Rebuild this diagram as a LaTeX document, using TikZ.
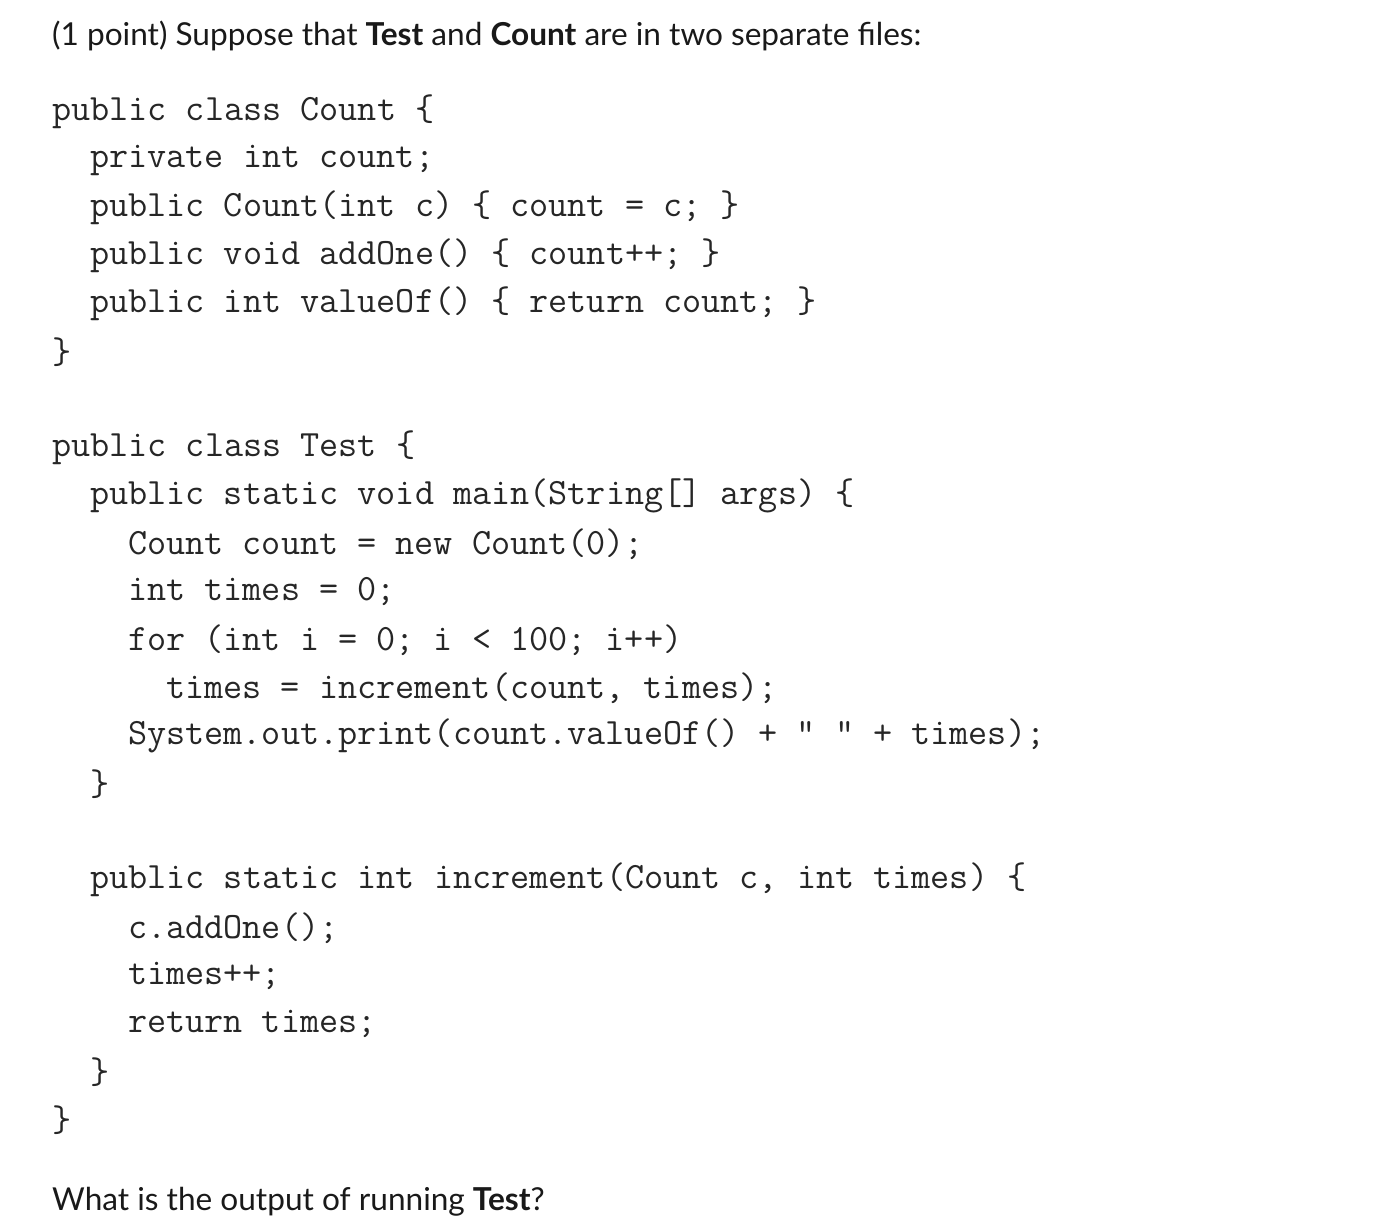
\documentclass[tikz,border=0pt]{standalone}
\usepackage{fontspec}
\setmainfont{Lato}
\newfontfamily\codef{Latin Modern Mono}
\begin{document}
\begin{tikzpicture}[x=1pt,y=-1pt,
  cl/.style={anchor=west,inner sep=0pt,font=\codef\fontsize{37.1}{37.1}\selectfont,text=black!85},
  tx/.style={anchor=west,inner sep=0pt,font=\fontsize{31.6}{31.6}\selectfont,text=black!90}]
\useasboundingbox (0,0) rectangle (1384,1230);
\node[tx] (h) at (52,36) {(1 point) Suppose that \textbf{Test} and \textbf{Count} are in two separate files:};
\node[cl] (l1) at (52,112) {public class Count \{};
\node[cl] (l2) at (90,160) {private int count;};
\node[cl] (l3) at (90,208) {public Count(int c) \{ count = c; \}};
\node[cl] (l4) at (90,256) {public void addOne() \{ count++; \}};
\node[cl] (l5) at (90,304) {public int valueOf() \{ return count; \}};
\node[cl] (l6) at (52,352) {\}};
\node[cl] (l7) at (52,448) {public class Test \{};
\node[cl] (l8) at (90,496) {public static void main(String[] args) \{};
\node[cl] (l9) at (128,544) {Count count = new Count(0);};
\node[cl] (l10) at (128,592) {int times = 0;};
\node[cl] (l11) at (128,640) {for (int i = 0; i < 100; i++)};
\node[cl] (l12) at (166,688) {times = increment(count, times);};
\node[cl] (l13) at (128,736) {System.out.print(count.valueOf() + " " + times);};
\node[cl] (l14) at (90,784) {\}};
\node[cl] (l15) at (90,880) {public static int increment(Count c, int times) \{};
\node[cl] (l16) at (128,928) {c.addOne();};
\node[cl] (l17) at (128,976) {times++;};
\node[cl] (l18) at (128,1024) {return times;};
\node[cl] (l19) at (90,1072) {\}};
\node[cl] (l20) at (52,1120) {\}};
\node[tx] (q) at (52,1202) {What is the output of running \textbf{Test}?};
\end{tikzpicture}
\end{document}
